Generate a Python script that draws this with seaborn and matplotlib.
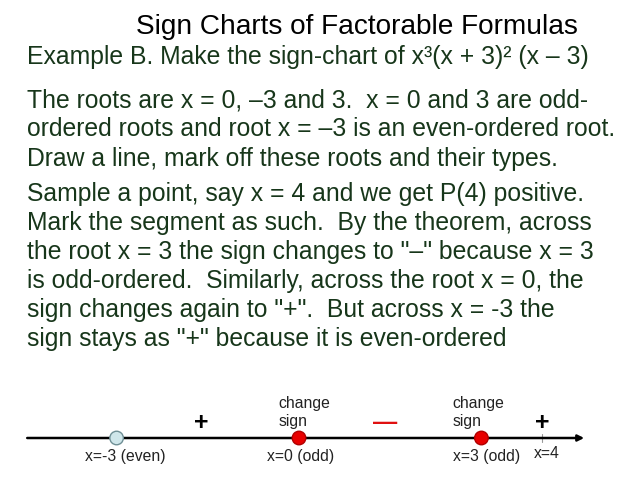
import numpy as np
import matplotlib
matplotlib.use("Agg")
import matplotlib.pyplot as plt
import seaborn as sns
import pandas as pd

# roots of x^3 (x+3)^2 (x-3) and their types
roots = [-3, 0, 3]
root_types = ["even", "odd", "odd"]
root_labels = ["x=-3 (even)", "x=0 (odd)", "x=3 (odd)"]
sample_x = 4
sample_label = "x=4"
# signs on the segments
sign_x = [-1.6, 1.42, 4.0]
sign_text = ["+", "\u2014", "+"]
sign_color = ["black", "#e01010", "black"]

title = "Sign Charts of Factorable Formulas"
subtitle = "Example B. Make the sign-chart of x\u00b3(x + 3)\u00b2 (x \u2013 3)"
para1 = ["The roots are x = 0, \u20133 and 3.  x = 0 and 3 are odd-",
         "ordered roots and root x = \u20133 is an even-ordered root.",
         "Draw a line, mark off these roots and their types."]
para2 = ["Sample a point, say x = 4 and we get P(4) positive.",
         "Mark the segment as such.  By the theorem, across",
         "the root x = 3 the sign changes to \"\u2013\" because x = 3",
         "is odd-ordered.  Similarly, across the root x = 0, the",
         "sign changes again to \"+\".  But across x = -3 the",
         "sign stays as \"+\" because it is even-ordered"]

sns.set_theme(style="white")
plt.rcParams['font.family'] = ['Liberation Sans', 'DejaVu Sans']

green = "#17361a"

fig = plt.figure(figsize=(6.38, 4.78), dpi=100)
bg = fig.add_axes([0, 0, 1, 1])
bg.set_xlim(0, 638)
bg.set_ylim(478, 0)
bg.axis('off')

bg.text(136, 34, title, fontsize=20.2, color='black', va='baseline')
bg.text(27, 64, subtitle, fontsize=17.8, color=green, va='baseline')
for i, line in enumerate(para1):
    bg.text(27, 107 + 29.5 * i, line, fontsize=17.8, color=green, va='baseline')
for i, line in enumerate(para2):
    bg.text(27, 201 + 29 * i, line, fontsize=17.8, color=green, va='baseline')

# number line, 0 at px 299, ~60.8 px per unit
ax = fig.add_axes([0, 0, 1, 1], sharey=bg)
ax.set_xlim(-299 / 60.8, 339 / 60.8)
ax.axis('off')
ax.patch.set_alpha(0)
yl = 438
ax.annotate('', xy=(4.69, yl), xytext=(-4.47, yl),
            arrowprops=dict(arrowstyle='-|>', color='black', lw=1.8,
                            mutation_scale=9, shrinkA=0, shrinkB=0))
ax.plot([sample_x, sample_x], [yl - 4, yl + 4], color='#999999', lw=0.8)

df = pd.DataFrame({'x': roots, 'y': [yl] * 3, 'type': root_types})
sns.scatterplot(data=df, x='x', y='y', hue='type',
                palette={'even': '#cfe6ea', 'odd': '#e80000'},
                s=95, linewidth=1, edgecolor=['#6f8f95', '#b00000', '#b00000'],
                legend=False, ax=ax, zorder=5)

label_dx = [0.15, 0.02, 0.09]
for r, lab, dx in zip(roots, root_labels, label_dx):
    ax.text(r + dx, yl + 18, lab, fontsize=11.3, color='#222222',
            ha='center', va='center')
ax.text(sample_x + 0.07, yl + 15, sample_label, fontsize=11.3, color='#222222',
        ha='center', va='center')
change_dx = [-0.34, -0.48]
for r, dx in zip(roots[1:], change_dx):
    ax.text(r + dx, yl - 30, "change", fontsize=11.3, color='#222222',
            ha='left', va='baseline')
    ax.text(r + dx, yl - 12, "sign", fontsize=11.3, color='#222222',
            ha='left', va='baseline')
for sx, st, sc in zip(sign_x, sign_text, sign_color):
    ax.text(sx, yl - 15, st, fontsize=18 if st == "+" else 17.5, color=sc,
            ha='center', va='center', fontweight='bold')

fig.savefig('out.png', dpi=100)
